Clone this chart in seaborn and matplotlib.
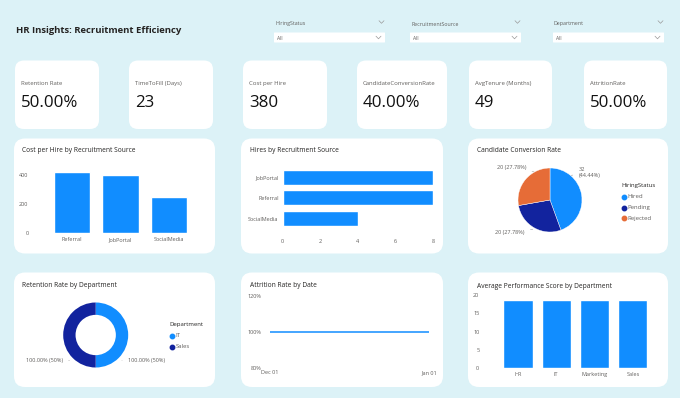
import pandas as pd
import matplotlib.pyplot as plt
import seaborn as sns
from matplotlib.patches import FancyBboxPatch
from matplotlib.lines import Line2D
from matplotlib.transforms import IdentityTransform

# data
kpi_labels = ['Retention Rate', 'TimeToFill (Days)', 'Cost per Hire',
              'CandidateConversionRate', 'AvgTenure (Months)', 'AttritionRate']
kpi_values = ['50.00%', '23', '380', '40.00%', '49', '50.00%']

cost_sources = ['Referral', 'JobPortal', 'SocialMedia']
cost_per_hire = [425, 400, 250]

hire_sources = ['JobPortal', 'Referral', 'SocialMedia']
hires = [8, 8, 4]

status = ['Hired', 'Pending', 'Rejected']
status_counts = [32, 20, 20]

departments_ret = ['IT', 'Sales']
retention = [100, 100]

attr_dates = ['2023-12-01', '2024-01-01']
attr_rate = [100, 100]

perf_departments = ['HR', 'IT', 'Marketing', 'Sales']
perf_score = [18.6, 18.6, 18.6, 18.6]

slicers = ['HiringStatus', 'RecruitmentSource', 'Department']

BLUE = '#118DFF'
DARK = '#12239E'
ORANGE = '#E66C37'
BG = '#DCF2F7'
TXT = '#252423'
GREY = '#605E5C'

sns.set_theme(style='white')
plt.rcParams['font.family'] = ['Open Sans', 'DejaVu Sans']

W, H = 680, 398
fig = plt.figure(figsize=(W / 100, H / 100), dpi=100)
fig.patch.set_facecolor(BG)


def box(x0, y0, x1, y1):
    return [x0 / W, 1 - y1 / H, (x1 - x0) / W, (y1 - y0) / H]


def card(x0, y0, x1, y1, r=9, color='white'):
    p = FancyBboxPatch((x0 + r, H - y1 + r), (x1 - x0) - 2 * r, (y1 - y0) - 2 * r,
                       boxstyle=f'round,pad={r}', fc=color, ec='none',
                       transform=IdentityTransform(), zorder=-5)
    fig.add_artist(p)


def text(x, y, s, **kw):
    kw.setdefault('va', 'center')
    return fig.text(x / W, 1 - y / H, s, **kw)


def chevron(x, y, color='#9A9A9A'):
    fig.add_artist(Line2D([(x - 2.5) / W, x / W, (x + 2.5) / W],
                          [1 - (y - 1.3) / H, 1 - (y + 1.3) / H, 1 - (y - 1.3) / H],
                          lw=0.5, color=color, transform=fig.transFigure))


def style_ax(ax):
    ax.set_facecolor('none')
    sns.despine(ax=ax, left=True, bottom=True)
    ax.tick_params(length=0, labelsize=4, colors=GREY)
    ax.set_xlabel('')
    ax.set_ylabel('')


def legend(x, y, title, labels, colors, step=10.8):
    text(x, y, title, fontsize=4.3, color=TXT)
    for i, (lab, c) in enumerate(zip(labels, colors)):
        yy = y + (i + 1) * step
        fig.add_artist(Line2D([(x + 3) / W], [1 - yy / H], marker='o', ms=3.2,
                              color=c, transform=fig.transFigure))
        text(x + 6.5, yy, lab, fontsize=4.3, color=GREY)


# header
text(16, 30.5, 'HR Insights: Recruitment Efficiency', fontsize=6.8,
     fontweight='bold', color=TXT)
for name, x0 in zip(slicers, [274, 410, 553]):
    text(x0 + 1, 24, name, fontsize=3.8, color=GREY)
    chevron(x0 + 107.5, 22)
    card(x0, 32.5, x0 + 111, 42.5, r=0.5)
    text(x0 + 3, 38, 'All', fontsize=3.6, color=GREY)
    chevron(x0 + 104.5, 37.5)

# KPI cards
kpi_x = [(15, 99), (129, 213), (243, 327), (357, 447), (469, 552), (584, 667)]
for (x0, x1), lab, val in zip(kpi_x, kpi_labels, kpi_values):
    card(x0, 60.5, x1, 129)
    text(x0 + 6, 83.5, lab, fontsize=4.3, color=GREY)
    text(x0 + 6, 103, val, fontsize=12.2, color='#111111')

# chart cards
for x0, x1 in [(14, 215), (241, 443), (468, 668)]:
    card(x0, 138.5, x1, 253.5, r=11)
    card(x0, 272.5, x1, 387, r=11)

# Cost per Hire by Recruitment Source
text(22.5, 151, 'Cost per Hire by Recruitment Source', fontsize=4.8, color=TXT)
ax1 = fig.add_axes(box(48, 169.5, 193, 233.3))
sns.barplot(x=cost_sources, y=cost_per_hire, color=BLUE, saturation=1,
            width=0.75, ax=ax1)
ax1.set_ylim(0, 440)
ax1.set_yticks([0, 200, 400])
style_ax(ax1)
ax1.tick_params(axis='y', pad=14)
ax1.tick_params(axis='x', pad=3)

# Hires by Recruitment Source
text(250, 151, 'Hires by Recruitment Source', fontsize=4.8, color=TXT)
ax2 = fig.add_axes(box(282.7, 166.7, 433.3, 229))
sns.barplot(x=hires, y=hire_sources, orient='h', color=BLUE, saturation=1,
            width=0.73, ax=ax2)
ax2.set_xlim(0, 8)
ax2.set_xticks([0, 2, 4, 6, 8])
style_ax(ax2)
ax2.tick_params(axis='x', pad=7)
ax2.tick_params(axis='y', pad=3)

# Candidate Conversion Rate
text(477, 151, 'Candidate Conversion Rate', fontsize=4.8, color=TXT)
ax3 = fig.add_axes(box(518, 168, 582, 232))
total = sum(status_counts)
wedges, _ = ax3.pie(status_counts, colors=[BLUE, DARK, ORANGE], startangle=90,
                    counterclock=False, radius=1,
                    wedgeprops=dict(linewidth=0.3, edgecolor='white'))
ax3.set_xlim(-1, 1)
ax3.set_ylim(-1, 1)
ax3.set_aspect('equal')
line_kw = dict(arrowprops=dict(arrowstyle='-', color='#A0A0A0', lw=0.4),
               fontsize=4, color=GREY, va='center', annotation_clip=False)
pct = [f'{v} ({v / total * 100:.2f}%)' for v in status_counts]
ax3.annotate(f'{status_counts[0]}\n({status_counts[0] / total * 100:.2f}%)',
             xy=(0.66, 0.77), xytext=(0.9, 0.86), ha='left', **line_kw)
ax3.annotate(pct[2], xy=(-0.5, 0.88), xytext=(-0.75, 1.0), ha='right', **line_kw)
ax3.annotate(pct[1], xy=(-0.45, -0.9), xytext=(-0.8, -1.02), ha='right', **line_kw)
legend(621, 186, 'HiringStatus', status, [BLUE, DARK, ORANGE])

# Retention Rate by Department
text(22.5, 285.5, 'Retention Rate by Department', fontsize=4.8, color=TXT)
ax4 = fig.add_axes(box(63.2, 302.5, 128.2, 367.5))
share = [v / sum(retention) * 100 for v in retention]
ax4.pie(retention, colors=[BLUE, DARK], startangle=90, counterclock=False,
        radius=1, wedgeprops=dict(width=0.38, linewidth=0))
ax4.set_xlim(-1, 1)
ax4.set_ylim(-1, 1)
ax4.set_aspect('equal')
ax4.annotate(f'{retention[0]:.2f}% ({share[0]:.0f}%)', xy=(0.72, -0.78),
             xytext=(1.0, -0.79), ha='left', **line_kw)
ax4.annotate(f'{retention[1]:.2f}% ({share[1]:.0f}%)', xy=(-0.72, -0.78),
             xytext=(-1.02, -0.79), ha='right', **line_kw)
legend(169, 324.5, 'Department', departments_ret, [BLUE, DARK], step=11.2)

# Attrition Rate by Date
text(250, 285.5, 'Attrition Rate by Date', fontsize=4.8, color=TXT)
ax5 = fig.add_axes(box(270, 296, 429, 367.7))
df_attr = pd.DataFrame({'date': pd.to_datetime(attr_dates), 'rate': attr_rate})
sns.lineplot(data=df_attr, x='date', y='rate', color=BLUE, lw=1.1, ax=ax5)
ax5.set_xlim(df_attr['date'].min(), df_attr['date'].max())
ax5.set_ylim(80, 120)
ax5.set_yticks([80, 100, 120])
ax5.set_yticklabels([f'{v}%' for v in [80, 100, 120]])
ax5.set_xticks(df_attr['date'])
ax5.set_xticklabels(df_attr['date'].dt.strftime('%b %d'))
style_ax(ax5)
ax5.tick_params(axis='y', pad=6)
ax5.tick_params(axis='x', pad=2)

# Average Performance Score by Department
text(477.5, 286, 'Average Performance Score by Department', fontsize=4.8, color=TXT)
ax6 = fig.add_axes(box(498.8, 295, 652, 368))
sns.barplot(x=perf_departments, y=perf_score, color=BLUE, saturation=1,
            width=0.765, ax=ax6)
ax6.set_ylim(0, 20)
ax6.set_yticks([0, 5, 10, 15, 20])
style_ax(ax6)
ax6.tick_params(axis='y', pad=14)
ax6.tick_params(axis='x', pad=3)

fig.savefig('out.png', dpi=100, facecolor=BG)
